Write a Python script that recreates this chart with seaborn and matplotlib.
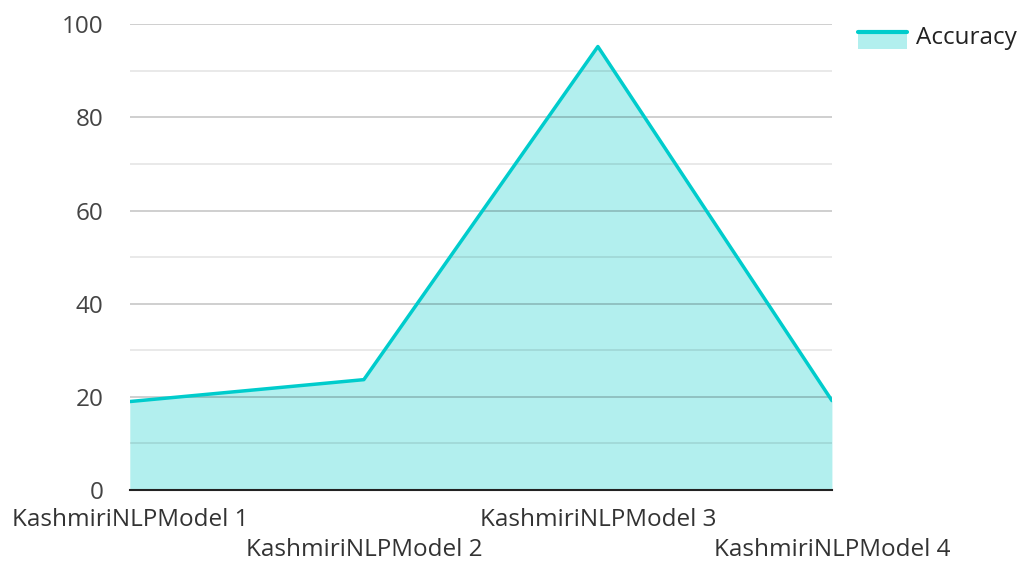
import matplotlib
matplotlib.use('Agg')
import numpy as np
import pandas as pd
import matplotlib.pyplot as plt
import seaborn as sns
from matplotlib.legend_handler import HandlerBase
from matplotlib.patches import Rectangle
from matplotlib.lines import Line2D

models = ['KashmiriNLPModel 1', 'KashmiriNLPModel 2', 'KashmiriNLPModel 3', 'KashmiriNLPModel 4']
accuracy = [19, 23.7, 95.2, 19.2]
y_ticks = [0, 20, 40, 60, 80, 100]

LINE = '#00cccc'
FILL = '#b2efee'


class FillLineHandler(HandlerBase):
    def create_artists(self, legend, orig_handle, xdescent, ydescent, width, height, fontsize, trans):
        rect = Rectangle((-xdescent, -ydescent - 0.3 * height), width, height * 1.05,
                         facecolor=FILL, edgecolor='none', transform=trans)
        top = -ydescent + 0.72 * height
        line = Line2D([-xdescent, -xdescent + width], [top, top], color=LINE, lw=3, transform=trans)
        return [rect, line]


sns.set_style("white")
plt.rcParams['font.family'] = ['Open Sans', 'DejaVu Sans']

df = pd.DataFrame({'x': np.arange(len(models)), 'acc': accuracy})

fig = plt.figure(figsize=(10.22, 5.62), dpi=100)
ax = fig.add_axes([0.127, 0.128, 0.687, 0.829])

ax.fill_between(df['x'], df['acc'], color=FILL, zorder=1, lw=0)
sns.lineplot(data=df, x='x', y='acc', color=LINE, lw=2.5, ax=ax, zorder=3)

ax.set_xlim(0, len(models) - 1)
ax.set_ylim(0, 100)
ax.set_yticks(y_ticks)
ax.set_yticks(np.arange(10, 100, 20), minor=True)
ax.set_axisbelow(False)
ax.grid(axis='y', which='major', color='black', alpha=0.22, lw=1.2)
ax.grid(axis='y', which='minor', color='black', alpha=0.10, lw=1.2)

labels = [m if i % 2 == 0 else '\n' + m for i, m in enumerate(models)]
ax.set_xticks(df['x'])
ax.set_xticklabels(labels, fontsize=17.5, color='#333333', linespacing=1.32)
ax.tick_params(axis='y', which='both', labelsize=17.5, labelcolor='#444444', length=0, pad=19)
ax.tick_params(axis='x', length=0, pad=13)
ax.set_xlabel('')
ax.set_ylabel('')

for s in ['top', 'right', 'left']:
    ax.spines[s].set_visible(False)
ax.spines['bottom'].set_color('#222222')
ax.spines['bottom'].set_linewidth(1.5)
ax.spines['bottom'].set_zorder(4)

handle = Rectangle((0, 0), 1, 1)
fig.legend([handle], ['Accuracy'], handler_map={Rectangle: FillLineHandler()},
           loc='upper left', bbox_to_anchor=(0.830, 0.971), borderaxespad=0, frameon=False,
           fontsize=17.5, handlelength=2.0, handletextpad=0.37, labelcolor='#222222')

fig.savefig('out.png', dpi=100)
